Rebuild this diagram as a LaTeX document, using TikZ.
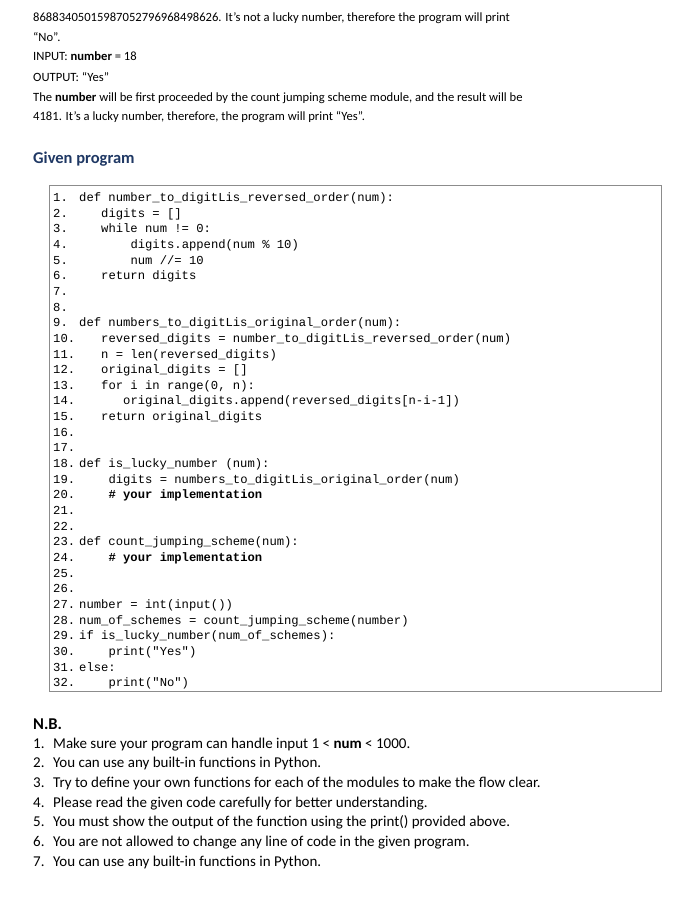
\documentclass[tikz,border=0pt]{standalone}
\usepackage{fontspec}
\setmainfont{Carlito}
\newfontfamily\codefont{Liberation Mono}
\definecolor{headblue}{HTML}{1F3864}
\definecolor{framegray}{HTML}{8C8C8C}
\begin{document}
\begin{tikzpicture}[x=1pt,y=-1pt,
  txt/.style={anchor=base west,inner sep=0pt,font=\fontsize{12.6}{15}\selectfont},
  nbtxt/.style={anchor=base west,inner sep=0pt,font=\fontsize{15}{18}\selectfont},
  head/.style={anchor=base west,inner sep=0pt,font=\bfseries\fontsize{16.5}{19}\selectfont},
  code/.style={anchor=base west,inner sep=0pt,font=\codefont\fontsize{12.2}{14}\selectfont},
  frame/.style={draw=framegray,line width=0.9pt}]
\useasboundingbox[fill=white] (0,0) rectangle (688,916);
% intro text
\node[txt] (t1) at (33,21.5) {86883405015987052796968498626. It’s not a lucky number, therefore the program will print};
\node[txt] (t2) at (33,41.5) {“No”.};
\node[txt] (t3) at (33,60.5) {INPUT: \textbf{number} = 18};
\node[txt] (t4) at (33,81.5) {OUTPUT: “Yes”};
\node[txt] (t5) at (33,101.5) {The \textbf{number} will be first proceeded by the count jumping scheme module, and the result will be};
\node[txt] (t6) at (33,120.5) {4181. It’s a lucky number, therefore, the program will print “Yes”.};
\node[head,text=headblue] (h1) at (33,163) {Given program};
% code frame
\draw[frame] (49,185) rectangle (661,691);
\newcommand{\cl}[3]{\node[code] (n#1) at (53,{197+15.65*(#1-1)+4.5}) {#1.};
  \node[code] (c#1) at ({79+7.33*#2},{197+15.65*(#1-1)+4.5}) {#3};}
\cl{1}{0}{def number\_to\_digitLis\_reversed\_order(num):}
\cl{2}{3}{digits = []}
\cl{3}{3}{while num != 0:}
\cl{4}{7}{digits.append(num \% 10)}
\cl{5}{7}{num //= 10}
\cl{6}{3}{return digits}
\cl{7}{0}{}
\cl{8}{0}{}
\cl{9}{0}{def numbers\_to\_digitLis\_original\_order(num):}
\cl{10}{3}{reversed\_digits = number\_to\_digitLis\_reversed\_order(num)}
\cl{11}{3}{n = len(reversed\_digits)}
\cl{12}{3}{original\_digits = []}
\cl{13}{3}{for i in range(0, n):}
\cl{14}{6}{original\_digits.append(reversed\_digits[n-i-1])}
\cl{15}{3}{return original\_digits}
\cl{16}{0}{}
\cl{17}{0}{}
\cl{18}{0}{def is\_lucky\_number (num):}
\cl{19}{4}{digits = numbers\_to\_digitLis\_original\_order(num)}
\cl{20}{4}{\textbf{\# your implementation}}
\cl{21}{0}{}
\cl{22}{0}{}
\cl{23}{0}{def count\_jumping\_scheme(num):}
\cl{24}{4}{\textbf{\# your implementation}}
\cl{25}{0}{}
\cl{26}{0}{}
\cl{27}{0}{number = int(input())}
\cl{28}{0}{num\_of\_schemes = count\_jumping\_scheme(number)}
\cl{29}{0}{if is\_lucky\_number(num\_of\_schemes):}
\cl{30}{4}{print("Yes")}
\cl{31}{0}{else:}
\cl{32}{4}{print("No")}
% N.B.
\node[head] (nb) at (33,729) {N.B.};
\newcommand{\nbi}[2]{\node[nbtxt] (k#1) at (33,{743+19.7*(#1-1)+5}) {#1.};
  \node[nbtxt] (i#1) at (53,{743+19.7*(#1-1)+5}) {#2};}
\nbi{1}{Make sure your program can handle input 1 < \textbf{num} < 1000.}
\nbi{2}{You can use any built-in functions in Python.}
\nbi{3}{Try to define your own functions for each of the modules to make the flow clear.}
\nbi{4}{Please read the given code carefully for better understanding.}
\nbi{5}{You must show the output of the function using the print() provided above.}
\nbi{6}{You are not allowed to change any line of code in the given program.}
\nbi{7}{You can use any built-in functions in Python.}
\end{tikzpicture}
\end{document}
